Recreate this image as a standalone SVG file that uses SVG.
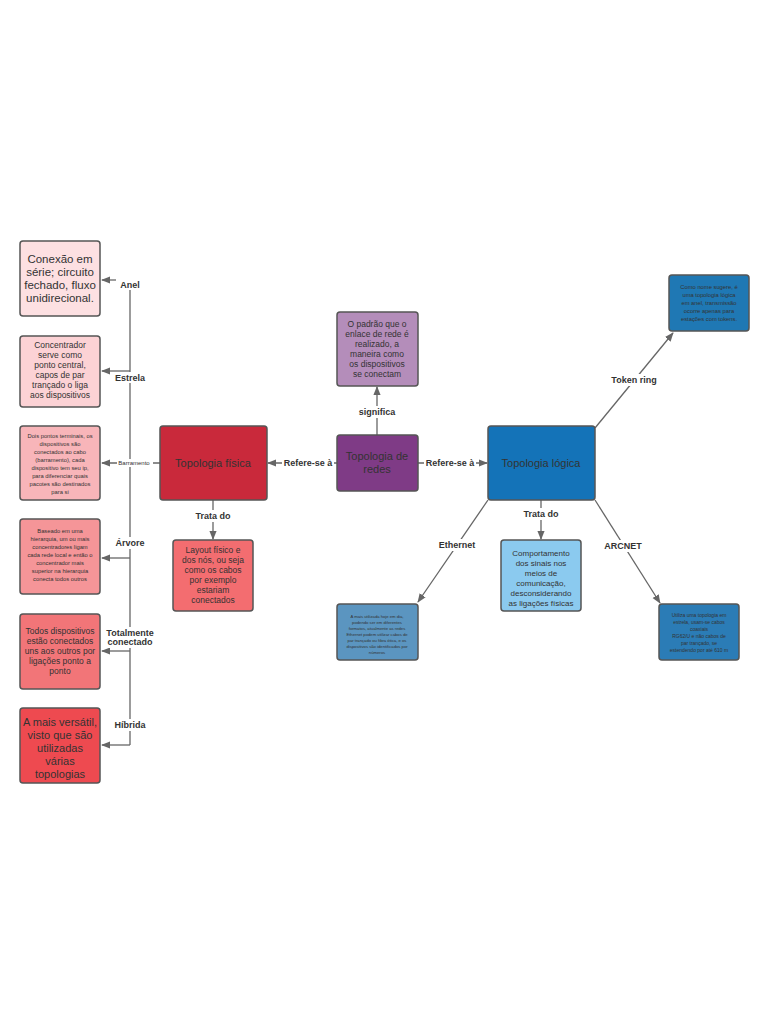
<svg xmlns="http://www.w3.org/2000/svg" width="768" height="1024" viewBox="0 0 768 1024">
<style>
text{font-family:"Liberation Sans",Arial,sans-serif;text-anchor:middle;fill:#333}
.b{stroke:#555;stroke-width:1.5}
.l{font-size:9px;font-weight:bold;fill:#333}
.c{stroke:#666;stroke-width:1.3;fill:none}
.lb{fill:#fff;stroke:none}
</style>
<defs><marker id="a" viewBox="0 0 10 10" refX="9" refY="5" markerWidth="7" markerHeight="7" orient="auto"><path d="M0,1L10,5L0,9z" fill="#666"/></marker></defs>
<rect width="768" height="1024" fill="#fff"/>
<g id="connectors">
<path class="c" d="M130,280V745"/>
<path class="c" d="M130,280H102" marker-end="url(#a)"/>
<path class="c" d="M130,371H102" marker-end="url(#a)"/>
<path class="c" d="M160,463H102" marker-end="url(#a)"/>
<path class="c" d="M130,558H102" marker-end="url(#a)"/>
<path class="c" d="M130,651H102" marker-end="url(#a)"/>
<path class="c" d="M130,745H102" marker-end="url(#a)"/>
<path class="c" d="M337,463H268" marker-end="url(#a)"/>
<path class="c" d="M418,463H487" marker-end="url(#a)"/>
<path class="c" d="M377,435V387" marker-end="url(#a)"/>
<path class="c" d="M213,500V539" marker-end="url(#a)"/>
<path class="c" d="M541,500V539" marker-end="url(#a)"/>
<path class="c" d="M595,428L673,333" marker-end="url(#a)"/>
<path class="c" d="M488,500L418,602" marker-end="url(#a)"/>
<path class="c" d="M595,500L660,603" marker-end="url(#a)"/>
<rect class="lb" x="116" y="279" width="28" height="11"/><text class="l" x="130" y="288">Anel</text>
<rect class="lb" x="112" y="372" width="36" height="11"/><text class="l" x="130" y="381">Estrela</text>
<rect class="lb" x="117" y="459" width="36" height="8"/><text x="134" y="465" style="font-size:6px">Barramento</text>
<rect class="lb" x="113" y="537" width="34" height="12"/><text class="l" x="130" y="546">Árvore</text>
<rect class="lb" x="106" y="627" width="48" height="21"/><text class="l" x="130" y="636">Totalmente</text><text class="l" x="130" y="645">conectado</text>
<rect class="lb" x="112" y="719" width="36" height="12"/><text class="l" x="130" y="728">Híbrida</text>
<rect class="lb" x="282" y="457" width="52" height="12"/><text class="l" x="308" y="466">Refere-se à</text>
<rect class="lb" x="424" y="457" width="52" height="12"/><text class="l" x="450" y="466">Refere-se à</text>
<rect class="lb" x="356" y="406" width="42" height="12"/><text class="l" x="377" y="415">significa</text>
<rect class="lb" x="194" y="510" width="38" height="12"/><text class="l" x="213" y="519">Trata do</text>
<rect class="lb" x="522" y="508" width="38" height="12"/><text class="l" x="541" y="517">Trata do</text>
<rect class="lb" x="608" y="374" width="52" height="12"/><text class="l" x="634" y="383">Token ring</text>
<rect class="lb" x="436" y="539" width="42" height="12"/><text class="l" x="457" y="548">Ethernet</text>
<rect class="lb" x="602" y="540" width="42" height="12"/><text class="l" x="623" y="549">ARCNET</text>
</g>
<g id="n1"><rect class="b" x="20" y="241" width="80" height="75" rx="3" fill="#fde0e2"/>
<text style="font-size:11.5px"><tspan x="60" y="263">Conexão em</tspan><tspan x="60" y="276">série; circuito</tspan><tspan x="60" y="289">fechado, fluxo</tspan><tspan x="60" y="302">unidirecional.</tspan></text></g>
<g id="n2"><rect class="b" x="20" y="336" width="80" height="71" rx="3" fill="#fcd2d5"/>
<text style="font-size:8.5px"><tspan x="60" y="348">Concentrador</tspan><tspan x="60" y="358">serve como</tspan><tspan x="60" y="368">ponto central,</tspan><tspan x="60" y="378">capos de par</tspan><tspan x="60" y="388">trançado o liga</tspan><tspan x="60" y="398">aos dispositivos</tspan></text></g>
<g id="n3"><rect class="b" x="20" y="426" width="80" height="74" rx="3" fill="#f8b5b9"/>
<text style="font-size:5.8px"><tspan x="60" y="438">Dois pontos terminais, os</tspan><tspan x="60" y="446">dispositivos são</tspan><tspan x="60" y="454">conectados ao cabo</tspan><tspan x="60" y="462">(barramento), cada</tspan><tspan x="60" y="470">dispositivo tem seu ip,</tspan><tspan x="60" y="478">para diferenciar quais</tspan><tspan x="60" y="486">pacotes são destinados</tspan><tspan x="60" y="494">para si</tspan></text></g>
<g id="n4"><rect class="b" x="20" y="519" width="80" height="75" rx="3" fill="#f59598"/>
<text style="font-size:5.8px"><tspan x="60" y="533">Baseado em uma</tspan><tspan x="60" y="541">hierarquia, um ou mais</tspan><tspan x="60" y="549">concentradores ligam</tspan><tspan x="60" y="557">cada rede local e então o</tspan><tspan x="60" y="565">concentrador mais</tspan><tspan x="60" y="573">superior na hierarquia</tspan><tspan x="60" y="581">conecta todos outros</tspan></text></g>
<g id="n5"><rect class="b" x="20" y="614" width="80" height="75" rx="3" fill="#f27578"/>
<text style="font-size:8.5px"><tspan x="60" y="634">Todos dispositivos</tspan><tspan x="60" y="644">estão conectados</tspan><tspan x="60" y="654">uns aos outros por</tspan><tspan x="60" y="664">ligações ponto a</tspan><tspan x="60" y="674">ponto</tspan></text></g>
<g id="n6"><rect class="b" x="20" y="708" width="80" height="75" rx="3" fill="#ee4a50"/>
<text style="font-size:11px"><tspan x="60" y="726">A mais versátil,</tspan><tspan x="60" y="739">visto que são</tspan><tspan x="60" y="752">utilizadas</tspan><tspan x="60" y="765">várias</tspan><tspan x="60" y="778">topologias</tspan></text></g>
<g id="fisica"><rect class="b" x="160" y="426" width="107" height="74" rx="3" fill="#c9293b"/><text x="213" y="467" style="font-size:11px">Topologia física</text></g>
<g id="redes"><rect class="b" x="337" y="435" width="81" height="56" rx="3" fill="#7f3b86"/><text style="font-size:11px"><tspan x="377" y="460">Topologia de</tspan><tspan x="377" y="473">redes</tspan></text></g>
<g id="logica"><rect class="b" x="488" y="426" width="107" height="74" rx="3" fill="#1473b8"/><text x="541" y="467" style="font-size:11px">Topologia lógica</text></g>
<g id="padrao"><rect class="b" x="337" y="312" width="81" height="74" rx="3" fill="#b48dba"/>
<text style="font-size:8.5px"><tspan x="377" y="327">O padrão que o</tspan><tspan x="377" y="337">enlace de rede é</tspan><tspan x="377" y="347">realizado, a</tspan><tspan x="377" y="357">maneira como</tspan><tspan x="377" y="367">os dispositivos</tspan><tspan x="377" y="377">se conectam</tspan></text></g>
<g id="layout"><rect class="b" x="173" y="540" width="80" height="71" rx="3" fill="#f36d70"/>
<text style="font-size:8.5px"><tspan x="213" y="553">Layout físico e</tspan><tspan x="213" y="563">dos nós, ou seja</tspan><tspan x="213" y="573">como os cabos</tspan><tspan x="213" y="583">por exemplo</tspan><tspan x="213" y="593">estariam</tspan><tspan x="213" y="603">conectados</tspan></text></g>
<g id="comport"><rect class="b" x="501" y="540" width="80" height="71" rx="3" fill="#8bcaef"/>
<text style="font-size:8px"><tspan x="541" y="556">Comportamento</tspan><tspan x="541" y="566">dos sinais nos</tspan><tspan x="541" y="576">meios de</tspan><tspan x="541" y="586">comunicação,</tspan><tspan x="541" y="596">desconsiderando</tspan><tspan x="541" y="606">as ligações físicas</tspan></text></g>
<g id="token"><rect class="b" x="669" y="275" width="80" height="56" rx="3" fill="#1f78b4"/>
<text style="font-size:5.8px"><tspan x="709" y="289">Como nome sugere, é</tspan><tspan x="709" y="297">uma topologia lógica</tspan><tspan x="709" y="305">em anel, transmissão</tspan><tspan x="709" y="313">ocorre apenas para</tspan><tspan x="709" y="321">estações com tokens.</tspan></text></g>
<g id="ethernet"><rect class="b" x="337" y="604" width="81" height="56" rx="3" fill="#5b95c0"/>
<text style="font-size:4.2px"><tspan x="377" y="618">A mais utilizada hoje em dia,</tspan><tspan x="377" y="624">podendo ser em diferentes</tspan><tspan x="377" y="630">formatos, atualmente as redes</tspan><tspan x="377" y="636">Ethernet podem utilizar cabos de</tspan><tspan x="377" y="642">par trançado ou fibra ótica, e os</tspan><tspan x="377" y="648">dispositivos são identificados por</tspan><tspan x="377" y="654">números</tspan></text></g>
<g id="arcnet"><rect class="b" x="659" y="604" width="80" height="56" rx="3" fill="#2b7cb6"/>
<text style="font-size:5px"><tspan x="699" y="617">Utiliza uma topologia em</tspan><tspan x="699" y="624">estrela, usam-se cabos</tspan><tspan x="699" y="631">coaxiais</tspan><tspan x="699" y="638">RG62/U e não cabos de</tspan><tspan x="699" y="645">par trançado, se</tspan><tspan x="699" y="652">estendendo por até 610 m</tspan></text></g>
</svg>
